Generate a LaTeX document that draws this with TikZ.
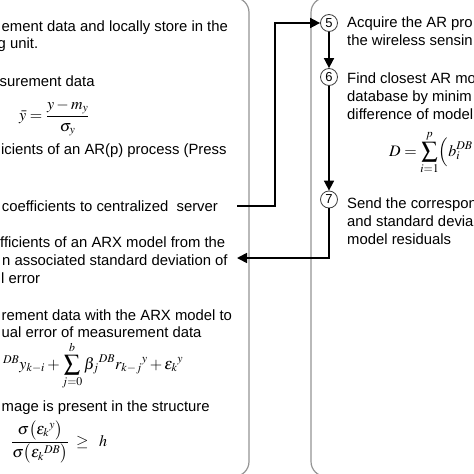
\documentclass[tikz,border=0pt]{standalone}
\usepackage{mathptmx}
\usepackage[no-math]{fontspec}
\setmainfont{Liberation Sans}
\usetikzlibrary{arrows.meta}
\tikzset{
  boxline/.style={draw=black!42, line width=1.2pt, rounded corners=15pt},
  txt/.style={font=\fontsize{14.85}{17.8}\selectfont, inner sep=0pt, anchor=base west},
  mth/.style={font=\fontsize{16}{19}\selectfont, inner sep=0pt, anchor=base west},
  num/.style={circle, draw=black!75, line width=0.8pt, minimum size=17pt, inner sep=0pt, font=\fontsize{13}{13}\selectfont},
  arr/.style={line width=1.7pt, -{Triangle[length=10pt,width=10pt]}}
}
\begin{document}
\begin{tikzpicture}[x=1pt,y=-1pt]
\useasboundingbox (0,0) rectangle (474,474);
\clip (0,0) rectangle (474,474);
% boxes
\draw[boxline] (-60,-2.5) rectangle (249,476.5);
\draw[boxline] (311,-2.5) rectangle (540,476.5);
% left texts
\node[txt] (l1) at (1.5,31.7) {ement data and locally store in the};
\node[txt] (l2) at (-2.5,48.5) {g unit.};
\node[txt] (l3) at (-0.5,86) {surement data};
\node[mth] (f1) at (19,120.5) {$\bar{y}=\displaystyle\frac{y-m_y}{\sigma_y}$};
\node[txt] (l4) at (1,154.5) {icients of an AR(p) process (Press};
\node[txt] (l5) at (1.7,211.7) {coefficients to centralized\ \ server};
\node[txt] (l6) at (0,247) {fficients of an ARX model from the};
\node[txt] (l7) at (2,265) {n associated standard deviation of};
\node[txt] (l8) at (1,283) {l error};
\node[txt] (l9) at (1.5,320) {rement data with the ARX model to};
\node[txt] (l10) at (1.5,337.5) {ual error of measurement data};
\node[mth] (f2) at (3,369) {$^{DB}y_{k-i}+\displaystyle\sum_{j=0}^{b}\beta_j{}^{DB}r_{k-j}{}^{y}+\varepsilon_k{}^{y}$};
\node[txt] (l11) at (1.5,411) {mage is present in the structure};
\node[mth] (f3) at (11,446) {$\displaystyle\frac{\sigma\bigl(\varepsilon_k{}^{y}\bigr)}{\sigma\bigl(\varepsilon_k{}^{DB}\bigr)}\;\ge\;\; h$};
% right side
\node[num] (c5) at (329,23) {5};
\node[num] (c6) at (329,77) {6};
\node[num] (c7) at (329,199.5) {7};
\node[txt] (r5a) at (347,27.7) {Acquire the AR pro};
\node[txt] (r5b) at (347,45.7) {the wireless sensin};
\node[txt] (r6a) at (347,83.3) {Find closest AR mo};
\node[txt] (r6b) at (347,101) {database by minim};
\node[txt] (r6c) at (347,119) {difference of model};
\node[mth] (fD) at (389,156) {$D=\displaystyle\sum_{i=1}^{p}\Bigl(b_i^{DB}$};
\node[txt] (r7a) at (347,208) {Send the correspon};
\node[txt] (r7b) at (347,226) {and standard devia};
\node[txt] (r7c) at (347,244) {model residuals};
% connectors
\coordinate (s4) at (237,206);
\coordinate (b4) at (275,23);
\coordinate (e8) at (237,258);
\draw[arr] (s4) -| (b4) -- (c5.west);
\draw[arr] (c5) -- (c6);
\draw[arr] (c6) -- (c7);
\draw[arr] (c7) |- (e8);
\end{tikzpicture}
\end{document}
